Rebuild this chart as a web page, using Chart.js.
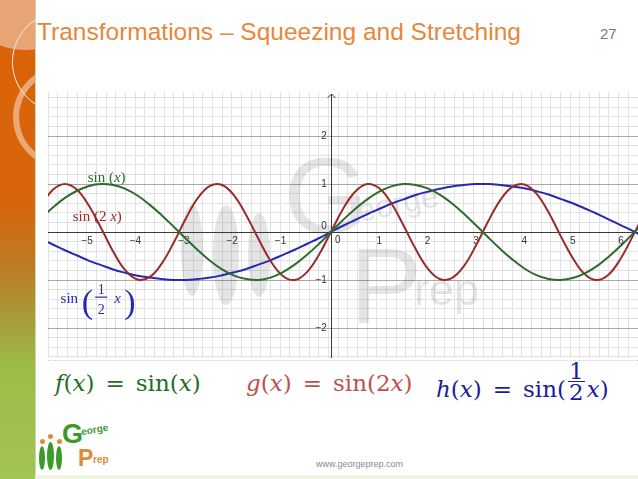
<!DOCTYPE html>
<html>
<head>
<meta charset="utf-8">
<script src="https://cdn.jsdelivr.net/npm/chart.js@4"></script>
<style>
  body { margin: 0; }
  #slide { position: relative; width: 638px; height: 479px; background: #fff; overflow: hidden; font-family: "Liberation Sans", Arial, sans-serif; }
  #strip { position: absolute; left: 0; top: 0; width: 35px; height: 479px; overflow: hidden;
    background: linear-gradient(to bottom, #dc6208 0%, #d8650c 42%, #bf7a22 55%, #a89a38 66%, #9dbb46 76%, #a2c453 100%);
    border-right: 1px solid #c8d8b0; }
  .ring { position: absolute; border-radius: 50%; }
  #title { position: absolute; left: 37px; top: 18px; font-size: 24.5px; color: #e6873a; white-space: nowrap; }
  #pagenum { position: absolute; left: 600px; top: 25px; font-size: 15px; color: #7a7a7a; }
  #chartbox { position: absolute; left: 48px; top: 92px; }
  #formulas { position: absolute; left: 0; top: 0; font-family: "DejaVu Serif", serif; font-size: 23px; }
  .f { position: absolute; top: 370px; white-space: nowrap; }
  .f i { font-style: italic; }
  .eq { padding: 0 11px; }
  .frac { display: inline-block; vertical-align: middle; text-align: center; line-height: 20px; margin: 0 2px; position: relative; top: -9px; }
  .frac span { display: block; }
  .frac .num { border-bottom: 1.5px solid #1c1c9c; padding: 0 1px; }
  #site { position: absolute; left: 316px; top: 459px; font-size: 9px; color: #8a8a8a; }
  #bottomline { position: absolute; left: 35px; top: 475px; width: 603px; height: 4px; background: #eef4e0; }
  #dots { position: absolute; left: 48px; top: 360px; width: 590px; border-top: 1px dotted #d0d0d0; }
  .logo { position: absolute; }
</style>
</head>
<body>
<div id="slide">
  <div id="strip">
    <div class="ring" style="left:-40px; top:-75px; width:130px; height:125px; background:#e9a475;"></div>
    <div class="ring" style="left:12px; top:12px; width:96px; height:98px; border:1.5px solid #f6e2cf;"></div>
    <div class="ring" style="left:13px; top:66px; width:88px; height:90px; border:6px solid rgba(245,205,175,0.65);"></div>
  </div>
  <div id="title">Transformations – Squeezing and Stretching</div>
  <div id="pagenum">27</div>
  <div id="chartbox"><canvas id="graph" width="590" height="266"></canvas></div>
  <div id="dots"></div>
  <div id="formulas">
    <div class="f" style="left:55px; color:#1f6f1f;"><i>f</i>(<i>x</i>)<span class="eq">=</span>sin(<i>x</i>)</div>
    <div class="f" style="left:246px; color:#c0504d;"><i>g</i>(<i>x</i>)<span class="eq">=</span>sin(2<i>x</i>)</div>
    <div class="f" style="left:436px; color:#1c1c9c;"><i>h</i>(<i>x</i>)<span class="eq">=</span>sin(<span class="frac"><span class="num">1</span><span>2</span></span><i>x</i>)</div>
  </div>
  <!-- logo -->
  <div class="logo" style="left:39px; top:446px; width:6px; height:24px; border-radius:50%; background:#3a9a2a;"></div>
  <div class="logo" style="left:47px; top:442px; width:7px; height:28px; border-radius:50%; background:#3a9a2a;"></div>
  <div class="logo" style="left:56px; top:446px; width:6px; height:24px; border-radius:50%; background:#3a9a2a;"></div>
  <div class="logo" style="left:40px; top:439px; width:5px; height:5px; border-radius:50%; background:#e08a3a;"></div>
  <div class="logo" style="left:48px; top:434px; width:5px; height:5px; border-radius:50%; background:#e08a3a;"></div>
  <div class="logo" style="left:57px; top:439px; width:5px; height:5px; border-radius:50%; background:#e08a3a;"></div>
  <div class="logo" style="left:62px; top:419px; font-size:27px; font-weight:bold; color:#3a9a2a;">G</div>
  <div class="logo" style="left:81px; top:424px; font-size:10px; font-weight:bold; color:#3a9a2a; transform:rotate(-10deg);">eorge</div>
  <div class="logo" style="left:78px; top:445px; font-size:23px; font-weight:bold; color:#e08a3a;">P</div>
  <div class="logo" style="left:93px; top:454px; font-size:10px; font-weight:bold; color:#e08a3a;">rep</div>
  <div id="site">www.georgeprep.com</div>
  <div id="bottomline"></div>
</div>
<script>
// puntos de muestra (x) y valores de cada curva
const xValues = [-6, -5.75, -5.5, -5.25, -5, -4.75, -4.5, -4.25, -4, -3.75, -3.5, -3.25, -3, -2.75, -2.5, -2.25,
  -2, -1.75, -1.5, -1.25, -1, -0.75, -0.5, -0.25, 0, 0.25, 0.5, 0.75, 1, 1.25, 1.5, 1.75, 2, 2.25, 2.5, 2.75,
  3, 3.25, 3.5, 3.75, 4, 4.25, 4.5, 4.75, 5, 5.25, 5.5, 5.75, 6, 6.25, 6.5];
const sinX = [0.28, 0.51, 0.71, 0.86, 0.96, 1.0, 0.98, 0.9, 0.76, 0.57, 0.35, 0.11, -0.14, -0.38, -0.6, -0.78,
  -0.91, -0.98, -1.0, -0.95, -0.84, -0.68, -0.48, -0.25, 0, 0.25, 0.48, 0.68, 0.84, 0.95, 1.0, 0.98, 0.91, 0.78, 0.6, 0.38,
  0.14, -0.11, -0.35, -0.57, -0.76, -0.9, -0.98, -1.0, -0.96, -0.86, -0.71, -0.51, -0.28, -0.03, 0.22];
const sin2X = [0.54, 0.88, 1.0, 0.88, 0.54, 0.08, -0.41, -0.8, -0.99, -0.94, -0.66, -0.22, 0.28, 0.71, 0.96, 0.98,
  0.76, 0.35, -0.14, -0.6, -0.91, -1.0, -0.84, -0.48, 0, 0.48, 0.84, 1.0, 0.91, 0.6, 0.14, -0.35, -0.76, -0.98, -0.96, -0.71,
  -0.28, 0.22, 0.66, 0.94, 0.99, 0.8, 0.41, -0.08, -0.54, -0.88, -1.0, -0.88, -0.54, -0.07, 0.42];
const sinHalfX = [-0.14, -0.26, -0.38, -0.49, -0.6, -0.69, -0.78, -0.85, -0.91, -0.95, -0.98, -1.0, -1.0, -0.98, -0.95, -0.9,
  -0.84, -0.77, -0.68, -0.59, -0.48, -0.37, -0.25, -0.13, 0, 0.13, 0.25, 0.37, 0.48, 0.59, 0.68, 0.77, 0.84, 0.9, 0.95, 0.98,
  1.0, 1.0, 0.98, 0.95, 0.91, 0.85, 0.78, 0.69, 0.6, 0.49, 0.38, 0.26, 0.14, 0.02, -0.11];
const xTickLabels = [-5, -4, -3, -2, -1, 0, 1, 2, 3, 4, 5, 6];
const yTickLabels = [-2, -1, 0, 1, 2];

const greenCurve = '#2f6b2a';
const redCurve = '#9b2b2b';
const blueCurve = '#2828b4';

function toPoints(ys) {
  return xValues.map((x, i) => ({ x: x, y: ys[i] }));
}

function gridColor(ctx) {
  const v = ctx.tick ? ctx.tick.value : 0;
  if (Math.abs(v) < 1e-9) return 'rgba(0,0,0,0)';
  return Math.abs(v - Math.round(v)) < 1e-6 ? '#a8a8a8' : '#e2e2e2';
}

// marca de agua, ejes con flecha y numeros junto a los ejes
const axesPlugin = {
  id: 'axesPlugin',
  beforeDatasetsDraw(chart) {
    const { ctx, chartArea, scales: { x, y } } = chart;
    const x0 = x.getPixelForValue(0);
    const y0 = y.getPixelForValue(0);
    ctx.save();
    // marca de agua
    ctx.fillStyle = 'rgba(0,0,0,0.1)';
    [[144, 158, 11, 46], [178, 163, 13, 50], [211, 163, 11, 42]].forEach(e => {
      ctx.beginPath(); ctx.ellipse(e[0], e[1], e[2], e[3], 0, 0, Math.PI * 2); ctx.fill();
    });
    ctx.font = '108px "Liberation Sans", Arial, sans-serif';
    ctx.textBaseline = 'alphabetic';
    ctx.fillText('G', 236, 141);
    ctx.fillText('P', 302, 231);
    ctx.font = '45px "Liberation Sans", Arial, sans-serif';
    ctx.fillText('rep', 366, 213);
    ctx.font = '32px "Liberation Sans", Arial, sans-serif';
    ctx.save(); ctx.translate(312, 130); ctx.rotate(-0.2); ctx.fillText('eorge', 0, 0); ctx.restore();
    // ejes
    ctx.strokeStyle = '#3a3a3a';
    ctx.lineWidth = 1;
    ctx.beginPath();
    ctx.moveTo(chartArea.left, Math.round(y0) + 0.5); ctx.lineTo(chartArea.right, Math.round(y0) + 0.5);
    ctx.moveTo(Math.round(x0) + 0.5, chartArea.bottom); ctx.lineTo(Math.round(x0) + 0.5, chartArea.top + 2);
    ctx.stroke();
    ctx.beginPath();
    ctx.moveTo(Math.round(x0) - 3.5, chartArea.top + 6);
    ctx.lineTo(Math.round(x0) + 0.5, chartArea.top + 2);
    ctx.lineTo(Math.round(x0) + 4.5, chartArea.top + 6);
    ctx.stroke();
    // numeros
    ctx.fillStyle = '#333';
    ctx.font = '10px "Liberation Sans", Arial, sans-serif';
    ctx.textBaseline = 'middle';
    xTickLabels.forEach(v => {
      const px = x.getPixelForValue(v);
      const txt = v < 0 ? '\u2212' + Math.abs(v) : String(v);
      if (v === 0) { ctx.textAlign = 'left'; ctx.fillText(txt, px + 4, y0 + 8); }
      else { ctx.textAlign = 'center'; ctx.fillText(txt, px - (v < 0 ? 2 : 0), y0 + 9); }
    });
    ctx.textAlign = 'right';
    yTickLabels.forEach(v => {
      const py = y.getPixelForValue(v);
      const txt = v < 0 ? '\u2212' + Math.abs(v) : String(v);
      ctx.fillText(txt, x0 - 4, v === 0 ? py - 6 : py);
    });
    ctx.restore();
  },
  afterDatasetsDraw(chart) {
    const { ctx, scales: { x, y } } = chart;
    ctx.save();
    ctx.textBaseline = 'alphabetic';
    ctx.textAlign = 'left';
    const serif = '"Liberation Serif", "Times New Roman", serif';
    function label(color, px, py, parts) {
      ctx.fillStyle = color;
      let cx = px;
      parts.forEach(p => {
        ctx.font = (p.it ? 'italic ' : '') + (p.size || 15) + 'px ' + serif;
        ctx.fillText(p.t, cx, py + (p.dy || 0));
        cx += ctx.measureText(p.t).width;
      });
      return cx;
    }
    label(greenCurve, x.getPixelForValue(-5.03), y.getPixelForValue(1.04),
      [{ t: 'sin (' }, { t: 'x', it: true }, { t: ')' }]);
    label(redCurve, x.getPixelForValue(-5.34), y.getPixelForValue(0.23),
      [{ t: 'sin (2 ' }, { t: 'x', it: true }, { t: ')' }]);
    // sin(1/2 x) con fraccion
    const bx = x.getPixelForValue(-5.59);
    const by = y.getPixelForValue(-1.47);
    let cx = label(blueCurve, bx, by, [{ t: 'sin ' }]);
    ctx.font = '34px ' + serif;
    ctx.fillText('(', cx, by + 10);
    cx += ctx.measureText('(').width + 2;
    ctx.font = '14px ' + serif;
    ctx.textAlign = 'center';
    ctx.fillText('1', cx + 6, by - 9);
    ctx.fillText('2', cx + 6, by + 11);
    ctx.fillRect(cx, by - 6, 12, 1.2);
    ctx.textAlign = 'left';
    ctx.font = 'italic 15px ' + serif;
    ctx.fillText('x', cx + 19, by);
    ctx.font = '34px ' + serif;
    ctx.fillText(')', cx + 29, by + 10);
    ctx.restore();
  }
};

const ctx = document.getElementById('graph').getContext('2d');
new Chart(ctx, {
  type: 'scatter',
  data: {
    datasets: [
      { label: 'sin(x)', data: toPoints(sinX), borderColor: greenCurve },
      { label: 'sin(2x)', data: toPoints(sin2X), borderColor: redCurve },
      { label: 'sin(x/2)', data: toPoints(sinHalfX), borderColor: blueCurve }
    ].map(d => Object.assign(d, {
      showLine: true, pointRadius: 0, borderWidth: 2, tension: 0.4, fill: false
    }))
  },
  options: {
    responsive: false,
    animation: false,
    layout: { padding: 0 },
    plugins: { legend: { display: false }, tooltip: { enabled: false } },
    scales: {
      x: {
        type: 'linear', min: -5.85, max: 6.35,
        ticks: { display: false, stepSize: 0.2, includeBounds: false, autoSkip: false },
        grid: { color: gridColor, drawTicks: false, lineWidth: 1 },
        border: { display: false }
      },
      y: {
        type: 'linear', min: -2.625, max: 2.917,
        ticks: { display: false, stepSize: 0.2, includeBounds: false, autoSkip: false },
        grid: { color: gridColor, drawTicks: false, lineWidth: 1 },
        border: { display: false }
      }
    }
  },
  plugins: [axesPlugin]
});
</script>
</body>
</html>
